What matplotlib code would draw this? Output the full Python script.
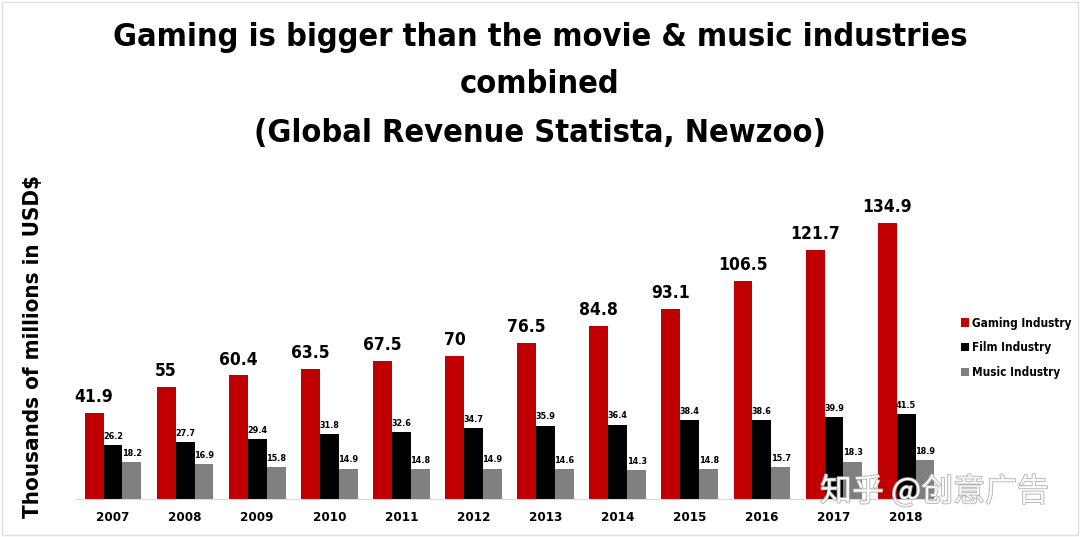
import numpy as np
import matplotlib.pyplot as plt
import matplotlib.patheffects as pe
from matplotlib.patches import Rectangle

years = ["2007", "2008", "2009", "2010", "2011", "2012",
         "2013", "2014", "2015", "2016", "2017", "2018"]
gaming = [41.9, 55, 60.4, 63.5, 67.5, 70, 76.5, 84.8, 93.1, 106.5, 121.7, 134.9]
film = [26.2, 27.7, 29.4, 31.8, 32.6, 34.7, 35.9, 36.4, 38.4, 38.6, 39.9, 41.5]
music = [18.2, 16.9, 15.8, 14.9, 14.8, 14.9, 14.6, 14.3, 14.8, 15.7, 18.3, 18.9]
title_lines = ["Gaming is bigger than the movie & music industries",
               "combined",
               "(Global Revenue Statista, Newzoo)"]

# Helvetica condensed bold in the original -> DejaVu Sans Condensed Bold here
plt.rcParams["font.family"] = ["DejaVu Sans"]
plt.rcParams["font.stretch"] = "condensed"
plt.rcParams["font.weight"] = "bold"

fig = plt.figure(figsize=(10.8, 5.37), dpi=100)
ax = fig.add_axes([0.0694, 0.0708, 0.801, 0.533])

x = np.arange(len(years))
w = 0.262
b1 = ax.bar(x - w, gaming, w, color="#c00000", label="Gaming Industry")
b2 = ax.bar(x, film, w, color="#000000", label="Film Industry")
b3 = ax.bar(x + w, music, w, color="#7f7f7f", label="Music Industry")

ax.bar_label(b1, labels=[f"{v:g}" for v in gaming], padding=5, fontsize=12.5)
ax.bar_label(b2, labels=[f"{v:g}" for v in film], padding=3, fontsize=6.5)
ax.bar_label(b3, labels=[f"{v:g}" for v in music], padding=3, fontsize=6.5)

ax.set_xlim(-0.527, 11.47)
ax.set_ylim(0, 140)
ax.set_xticks(x)
ax.set_xticklabels(years, fontsize=9.5)
ax.tick_params(axis="x", length=0, pad=9)
ax.set_yticks([])
for s in ["top", "right", "left"]:
    ax.spines[s].set_visible(False)
ax.spines["bottom"].set_color("#d9d9d9")

fig.text(33 / 1080, 0.354, "Thousands of millions in USD$", rotation=90,
         ha="center", va="center", fontsize=16)

fig.legend(handles=[b1, b2, b3], loc="center left",
           bbox_to_anchor=(950 / 1080, 0.352), frameon=False,
           prop={"weight": "bold", "size": 8.5, "stretch": "condensed"},
           handlelength=0.7, handleheight=0.7, handletextpad=0.3,
           labelspacing=1.0)

for yy, line in zip([0.931, 0.842, 0.752], title_lines):
    fig.text(0.5, yy, line, ha="center", va="center", fontsize=23.3)

fig.text(820 / 1080, 0.084, "知乎 @创意广告", fontsize=23, va="center",
         family=["Noto Sans CJK SC", "DejaVu Sans"], weight="normal",
         stretch="normal", color="white", alpha=0.9,
         path_effects=[pe.withStroke(linewidth=1.2, foreground="#aaaaaa")])

fig.patches.append(Rectangle((0.002, 0.003), 0.996, 0.994, transform=fig.transFigure,
                             fill=False, edgecolor="#e0e0e0", linewidth=1))

fig.savefig("out.png", dpi=100)
